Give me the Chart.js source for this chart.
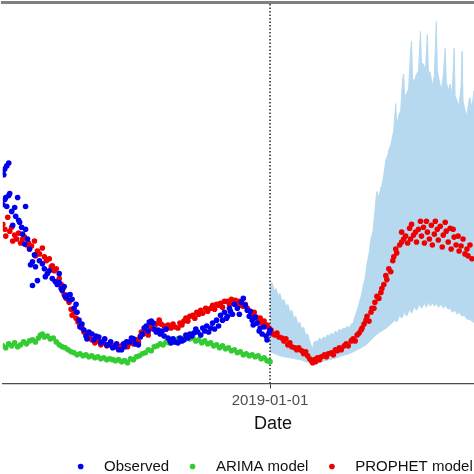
<!DOCTYPE html>
<html>
<head>
    <title>Observed vs ARIMA and PROPHET</title>
    <script src="https://cdn.jsdelivr.net/npm/chart.js"></script>
    <style>
        html, body { margin: 0; padding: 0; overflow: hidden; background: #fff; }
    </style>
</head>
<body>
    <canvas id="forecastChart" width="546" height="484"></canvas>

    <script>
        // x = days from 2019-01-01, y = value
        const tickValues = [0];
        const tickLabels = ['2019-01-01'];

        const obsDay = [-270, -269, -268, -266, -264, -270, -268, -267, -266, -264, -263, -261, -260, -258, -257, -255, -254, -253, -251, -250,
            -248, -247, -247, -245, -243, -242, -240, -240, -238, -237, -235, -233, -230, -228, -227, -225, -223, -220, -217, -215,
            -213, -213, -211, -210, -208, -207, -205, -203, -202, -200, -198, -196, -195, -193, -192, -190, -188, -186, -185, -183,
            -180, -178, -176, -173, -171, -170, -167, -165, -163, -161, -159, -157, -155, -153, -150, -148, -147, -145, -142, -140,
            -138, -136, -133, -131, -129, -127, -125, -123, -122, -120, -118, -117, -115, -113, -111, -109, -107, -105, -103, -101,
            -100, -98, -96, -93, -91, -89, -87, -85, -83, -81, -79, -77, -75, -73, -70, -68, -66, -64, -62, -60,
            -58, -56, -54, -52, -50, -48, -46, -44, -43, -41, -40, -38, -36, -33, -31, -29, -27, -25, -23, -21,
            -20, -18, -17, -15, -13, -11, -10, -8, -6, -4, -3, -1, 0];
        const obsValue = [214, 211, 217, 220, 223, 181, 186, 188, 179, 190, 192, 174, 160, 178, 169, 188, 165, 163, 158, 151,
            141, 179, 156, 146, 136, 120, 123, 99, 130, 118, 104, 124, 121, 116, 108, 111, 114, 106, 103, 100,
            111, 102, 96, 94, 98, 88, 89, 84, 90, 85, 76, 80, 72, 64, 57, 60, 54, 48, 45, 52,
            50, 44, 48, 47, 41, 42, 45, 39, 39, 42, 36, 37, 40, 34, 34, 40, 37, 42, 42, 46,
            45, 40, 39, 47, 50, 56, 58, 53, 62, 63, 61, 55, 52, 54, 50, 53, 48, 55, 46, 43,
            41, 45, 42, 41, 46, 43, 44, 49, 46, 50, 48, 51, 55, 52, 49, 56, 53, 58, 52, 56,
            61, 55, 64, 58, 69, 64, 72, 66, 68, 76, 73, 70, 80, 76, 70, 82, 86, 79, 74, 68,
            73, 64, 59, 67, 61, 53, 56, 50, 57, 48, 44, 51, 54];

        const arimaDay = [-270, -267, -264, -261, -258, -255, -252, -249, -246, -243, -240, -237, -234, -232, -230, -228, -225, -222, -219, -216,
            -213, -210, -207, -204, -201, -198, -195, -192, -189, -186, -183, -180, -177, -174, -171, -168, -165, -162, -159, -156,
            -153, -150, -147, -144, -141, -138, -135, -132, -129, -126, -123, -120, -117, -114, -111, -108, -105, -102, -99, -96,
            -93, -90, -87, -84, -81, -78, -75, -72, -69, -66, -63, -60, -57, -54, -51, -48, -45, -42, -39, -36,
            -33, -30, -27, -24, -21, -18, -15, -12, -9, -6, -3, 0];
        const arimaValue = [38, 36, 40, 38, 41, 37, 39, 42, 40, 43, 44, 42, 46, 49, 50, 47, 48, 45, 46, 42,
            39, 37, 36, 34, 32, 31, 29, 30, 28, 29, 27, 28, 26, 27, 25, 26, 24, 25, 24, 23,
            24, 22, 23, 21, 25, 24, 27, 28, 30, 31, 34, 33, 37, 38, 40, 39, 42, 41, 43, 42,
            45, 44, 46, 47, 45, 46, 43, 44, 41, 43, 40, 41, 38, 39, 36, 38, 35, 36, 33, 34,
            31, 32, 29, 30, 28, 29, 27, 28, 25, 26, 23, 22];

        const prophetDay = [-270, -268, -267, -265, -263, -261, -260, -258, -256, -254, -252, -250, -248, -246, -244, -243, -241, -238, -237, -235,
            -233, -230, -228, -226, -223, -221, -220, -218, -216, -213, -211, -209, -208, -206, -203, -201, -200, -198, -196, -194,
            -192, -190, -188, -185, -183, -180, -177, -174, -171, -168, -165, -162, -159, -156, -153, -150, -147, -144, -141, -138,
            -135, -133, -131, -130, -128, -127, -125, -123, -121, -120, -118, -115, -112, -110, -107, -105, -103, -100, -98, -96,
            -93, -91, -89, -87, -85, -83, -81, -78, -76, -74, -72, -70, -68, -65, -63, -60, -58, -56, -54, -52,
            -50, -48, -46, -43, -41, -39, -37, -35, -33, -31, -29, -27, -25, -23, -20, -18, -16, -14, -12, -10,
            -8, -6, -3, -1,
            1, 3, 5, 7, 9, 12, 14, 16, 18, 20, 22, 25, 27, 29, 32, 34, 36, 38, 40, 42,
            43, 45, 46, 48, 50, 52, 55, 57, 59, 62, 64, 66, 68, 70, 72, 75, 77, 79, 82, 84,
            86, 88, 90, 92, 93, 95, 97, 98, 100, 102, 103, 105, 106, 108, 110, 112, 113, 115, 117, 118,
            120, 122, 124, 125, 127, 128, 131, 133, 133, 135, 137, 139, 141, 142, 143, 145, 147, 148, 150, 152,
            153, 155, 156, 158, 159, 161, 163, 164, 166, 167, 169, 170, 172, 174, 175, 177, 178, 180, 182, 183,
            185, 186, 188, 190, 191, 193, 195, 197, 199, 200, 202, 204];
        const prophetValue = [161, 156, 149, 168, 154, 158, 144, 150, 146, 152, 142, 146, 148, 140, 142, 136, 139, 144, 129, 134,
            131, 137, 128, 124, 126, 118, 119, 114, 116, 106, 100, 96, 90, 86, 82, 75, 69, 72, 66, 62,
            59, 56, 52, 49, 46, 44, 41, 43, 39, 41, 38, 40, 37, 39, 36, 38, 39, 37, 41, 40,
            44, 42, 48, 52, 50, 56, 52, 49, 56, 59, 55, 60, 64, 60, 58, 55, 59, 56, 60, 57,
            56, 61, 59, 63, 66, 63, 68, 69, 66, 72, 70, 74, 71, 76, 73, 76, 79, 75, 80, 79,
            81, 77, 83, 83, 80, 85, 82, 84, 81, 83, 79, 78, 80, 76, 73, 70, 72, 67, 64, 66,
            61, 63, 59, 56,
            54, 50, 49, 51, 47, 46, 43, 45, 39, 41, 37, 36, 34, 36, 33, 30, 32, 28, 25, 23,
            21, 24, 22, 26, 24, 27, 29, 27, 30, 31, 29, 34, 33, 36, 34, 38, 40, 38, 43, 45,
            43, 49, 51, 54, 56, 60, 64, 68, 63, 72, 76, 76, 82, 88, 86, 92, 96, 100, 109, 105,
            116, 113, 124, 128, 136, 132, 140, 143, 153, 146, 149, 142, 157, 146, 161, 150, 153, 143, 156, 164,
            149, 158, 142, 164, 153, 146, 160, 140, 151, 164, 156, 145, 159, 138, 150, 163, 154, 143, 157, 136,
            156, 148, 140, 149, 134, 139, 146, 131, 136, 129, 140, 126];

        const upperDay = [0, 2, 4, 6, 8, 10, 12, 14, 16, 18, 20, 22, 24, 26, 28, 30, 32, 34, 36, 38,
            40, 42, 43, 44, 46, 48, 50, 52, 54, 56, 58, 60, 62, 64, 66, 68, 70, 72, 74, 76,
            78, 80, 82, 84, 86, 88, 90, 92, 94, 96, 98, 100, 102, 104, 106, 107, 108, 110, 112, 113,
            115, 117, 119, 120, 122, 123, 125, 127, 128, 130, 132, 134, 135, 136, 138, 140, 142, 143, 144, 146,
            148, 150, 152, 153, 155, 157, 159, 160, 162, 164, 166, 168, 169, 171, 173, 175, 177, 178, 180, 182,
            184, 186, 187, 189, 191, 193, 194, 195, 197, 199, 201, 202, 204, 206, 208];
        const upperValue = [100, 102, 94, 96, 89, 91, 83, 85, 78, 80, 72, 74, 66, 68, 60, 62, 55, 57, 49, 50,
            43, 37, 34, 41, 43, 42, 46, 44, 47, 46, 49, 48, 51, 49, 53, 51, 55, 53, 56, 55,
            58, 56, 60, 61, 68, 74, 81, 88, 98, 106, 121, 131, 146, 154, 174, 186, 194, 188, 198, 200,
            211, 226, 231, 236, 241, 246, 256, 283, 261, 271, 276, 308, 313, 291, 293, 298, 336, 346, 308, 306,
            313, 316, 356, 324, 323, 316, 353, 316, 314, 301, 311, 366, 316, 306, 296, 311, 339, 306, 296, 303,
            291, 339, 291, 286, 281, 301, 336, 286, 276, 271, 286, 289, 278, 296, 266];

        const lowerDay = [0, 5, 10, 14, 20, 25, 31, 36, 40, 44, 48, 52, 56, 60, 64, 70, 76, 80, 84, 88,
            92, 97, 102, 107, 111, 116, 121, 126, 128, 131, 133, 136, 138, 141, 143, 146, 148, 151, 153, 156,
            158, 160, 162, 164, 166, 168, 170, 173, 175, 177, 180, 182, 184, 187, 189, 191, 194, 196, 199, 201,
            204, 208];
        const lowerValue = [32, 30, 28, 27, 26, 25, 24, 22, 21, 20, 21, 22, 23, 24, 25, 27, 29, 30, 32, 34,
            36, 39, 44, 49, 52, 55, 59, 64, 62, 69, 66, 72, 68, 75, 71, 78, 74, 80, 76, 81,
            77, 82, 78, 82, 78, 81, 77, 80, 76, 79, 75, 76, 72, 74, 70, 72, 68, 69, 65, 65,
            63, 60];

        const toPoints = (xs, ys) => xs.map((x, i) => ({x: x, y: ys[i]}));

        const blue = '#0000ee';
        const green = '#33cc33';
        const red = '#ee0000';
        const band = '#b6d9ef';

        Chart.defaults.font.family = "'Liberation Sans', Arial, sans-serif";

        const dotStyle = {
            showLine: false,
            pointRadius: 2.8,
            pointHoverRadius: 2.8,
            pointBorderWidth: 0,
            borderWidth: 0
        };

        const forecastChart = new Chart(document.getElementById('forecastChart'), {
            type: 'scatter',
            data: {
                datasets: [
                    Object.assign({label: 'Observed', data: toPoints(obsDay, obsValue),
                        backgroundColor: blue, borderColor: blue, pointBackgroundColor: blue}, dotStyle),
                    Object.assign({label: 'ARIMA model', data: toPoints(arimaDay, arimaValue),
                        backgroundColor: green, borderColor: green, pointBackgroundColor: green}, dotStyle),
                    Object.assign({label: 'PROPHET model', data: toPoints(prophetDay, prophetValue),
                        backgroundColor: red, borderColor: red, pointBackgroundColor: red}, dotStyle),
                    {
                        label: 'forecast start',
                        data: [{x: 0, y: 0}, {x: 0, y: 385}],
                        showLine: true,
                        pointRadius: 0,
                        borderColor: '#222',
                        borderWidth: 1.5,
                        borderDash: [1.5, 2]
                    },
                    {
                        label: 'upper',
                        data: toPoints(upperDay, upperValue),
                        showLine: true,
                        pointRadius: 0,
                        borderColor: band,
                        borderWidth: 1,
                        backgroundColor: band,
                        fill: '+1'
                    },
                    {
                        label: 'lower',
                        data: toPoints(lowerDay, lowerValue),
                        showLine: true,
                        pointRadius: 0,
                        borderColor: band,
                        borderWidth: 1,
                        fill: false
                    }
                ]
            },
            options: {
                responsive: false,
                animation: false,
                events: [],
                layout: {padding: {top: 1, left: 0, right: 0, bottom: 0}},
                scales: {
                    x: {
                        type: 'linear',
                        position: 'bottom',
                        min: -270,
                        max: 276,
                        afterBuildTicks: (scale) => {
                            scale.ticks = tickValues.map(v => ({value: v}));
                        },
                        ticks: {
                            autoSkip: false,
                            maxRotation: 0,
                            padding: 3,
                            color: '#4d4d4d',
                            font: {size: 15},
                            callback: (v) => tickLabels[tickValues.indexOf(v)]
                        },
                        grid: {
                            drawOnChartArea: false,
                            drawTicks: true,
                            tickLength: 5,
                            color: '#333'
                        },
                        border: {display: true, color: '#4d4d4d', width: 1.3},
                        title: {
                            display: true,
                            text: 'Date',
                            color: '#111',
                            font: {size: 18},
                            padding: {top: 1, bottom: 8}
                        }
                    },
                    xTop: {
                        type: 'linear',
                        position: 'top',
                        ticks: {display: false},
                        grid: {display: false, drawTicks: false},
                        border: {display: true, color: '#808080', width: 3}
                    },
                    y: {
                        type: 'linear',
                        min: 0,
                        max: 385,
                        display: false
                    }
                },
                plugins: {
                    tooltip: {enabled: false},
                    legend: {
                        position: 'bottom',
                        labels: {
                            usePointStyle: true,
                            pointStyle: 'circle',
                            boxHeight: 4,
                            padding: 16,
                            color: '#111',
                            font: {size: 15},
                            generateLabels: (chart) => Chart.defaults.plugins.legend.labels.generateLabels(chart)
                                .filter(item => item.datasetIndex < 3)
                                .map(item => Object.assign(item, {text: '  ' + item.text}))
                        }
                    }
                }
            }
        });
    </script>
</body>
</html>
